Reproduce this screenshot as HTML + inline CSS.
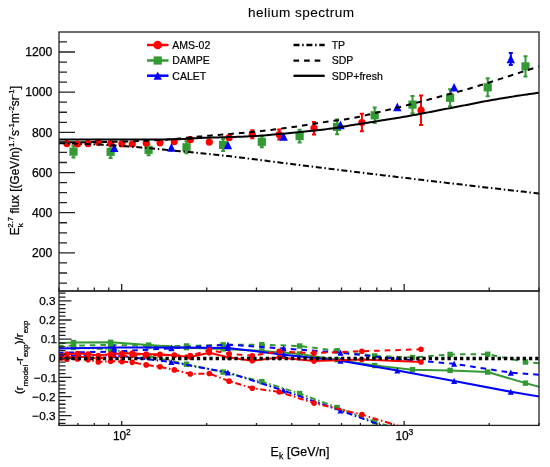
<!DOCTYPE html>
<html><head><meta charset="utf-8"><title>helium spectrum</title>
<style>html,body{margin:0;padding:0;background:#fff;width:550px;height:467px;overflow:hidden}svg{display:block}</style>
</head><body>
<svg width="550" height="467" viewBox="0 0 550 467">
<rect x="0" y="0" width="550" height="467" fill="#fff"/>
<g clip-path="url(#ct)">
<clipPath id="ct"><rect x="59" y="32" width="480" height="259"/></clipPath>
<path d="M73.5 145.7V157.5M71.5 145.7H75.5M71.5 157.5H75.5" stroke="#339933" stroke-width="2" fill="none"/>
<rect x="69.4" y="147.5" width="8.2" height="8.2" fill="#339933"/>
<path d="M110.6 145.6V158M108.6 145.6H112.6M108.6 158H112.6" stroke="#339933" stroke-width="2" fill="none"/>
<rect x="106.5" y="147.7" width="8.2" height="8.2" fill="#339933"/>
<path d="M148.6 144.3V155.3M146.6 144.3H150.6M146.6 155.3H150.6" stroke="#339933" stroke-width="2" fill="none"/>
<rect x="144.5" y="145.7" width="8.2" height="8.2" fill="#339933"/>
<path d="M186.5 141.3V153.3M184.5 141.3H188.5M184.5 153.3H188.5" stroke="#339933" stroke-width="2" fill="none"/>
<rect x="182.4" y="143.2" width="8.2" height="8.2" fill="#339933"/>
<path d="M223.1 138.9V150.9M221.1 138.9H225.1M221.1 150.9H225.1" stroke="#339933" stroke-width="2" fill="none"/>
<rect x="219" y="140.8" width="8.2" height="8.2" fill="#339933"/>
<path d="M261.8 136.3V147.3M259.8 136.3H263.8M259.8 147.3H263.8" stroke="#339933" stroke-width="2" fill="none"/>
<rect x="257.7" y="137.7" width="8.2" height="8.2" fill="#339933"/>
<path d="M299.6 129.8V142.4M297.6 129.8H301.6M297.6 142.4H301.6" stroke="#339933" stroke-width="2" fill="none"/>
<rect x="295.5" y="132" width="8.2" height="8.2" fill="#339933"/>
<path d="M337.1 119.6V134.2M335.1 119.6H339.1M335.1 134.2H339.1" stroke="#339933" stroke-width="2" fill="none"/>
<rect x="333" y="122.8" width="8.2" height="8.2" fill="#339933"/>
<path d="M374.7 107.5V123.1M372.7 107.5H376.7M372.7 123.1H376.7" stroke="#339933" stroke-width="2" fill="none"/>
<rect x="370.6" y="111.2" width="8.2" height="8.2" fill="#339933"/>
<path d="M412.5 96V113.2M410.5 96H414.5M410.5 113.2H414.5" stroke="#339933" stroke-width="2" fill="none"/>
<rect x="408.4" y="100.5" width="8.2" height="8.2" fill="#339933"/>
<path d="M450.1 89.3V106.3M448.1 89.3H452.1M448.1 106.3H452.1" stroke="#339933" stroke-width="2" fill="none"/>
<rect x="446" y="93.7" width="8.2" height="8.2" fill="#339933"/>
<path d="M487.7 78.3V96.3M485.7 78.3H489.7M485.7 96.3H489.7" stroke="#339933" stroke-width="2" fill="none"/>
<rect x="483.6" y="83.2" width="8.2" height="8.2" fill="#339933"/>
<path d="M525.5 56.2V76.6M523.5 56.2H527.5M523.5 76.6H527.5" stroke="#339933" stroke-width="2" fill="none"/>
<rect x="521.4" y="62.3" width="8.2" height="8.2" fill="#339933"/>

<circle cx="66.9" cy="143.6" r="3.6" fill="#ff0000"/>

<circle cx="77.5" cy="144" r="3.6" fill="#ff0000"/>

<circle cx="88" cy="143.6" r="3.6" fill="#ff0000"/>

<circle cx="98.3" cy="142.3" r="3.6" fill="#ff0000"/>

<circle cx="110.7" cy="143.5" r="3.6" fill="#ff0000"/>

<circle cx="121.9" cy="143.8" r="3.6" fill="#ff0000"/>

<circle cx="132.3" cy="144" r="3.6" fill="#ff0000"/>

<circle cx="146.2" cy="143.1" r="3.6" fill="#ff0000"/>

<circle cx="160" cy="142.8" r="3.6" fill="#ff0000"/>

<circle cx="174.3" cy="141.6" r="3.6" fill="#ff0000"/>

<circle cx="190.3" cy="139.7" r="3.6" fill="#ff0000"/>

<circle cx="209.3" cy="142.1" r="3.6" fill="#ff0000"/>

<circle cx="229.1" cy="137.7" r="3.6" fill="#ff0000"/>
<path d="M252.3 130.2V138.2M250.3 130.2H254.3M250.3 138.2H254.3" stroke="#ff0000" stroke-width="2" fill="none"/>
<circle cx="252.3" cy="134.2" r="3.6" fill="#ff0000"/>
<path d="M279.2 129.6V139.6M277.2 129.6H281.2M277.2 139.6H281.2" stroke="#ff0000" stroke-width="2" fill="none"/>
<circle cx="279.2" cy="134.6" r="3.6" fill="#ff0000"/>
<path d="M314 121.9V134.5M312 121.9H316M312 134.5H316" stroke="#ff0000" stroke-width="2" fill="none"/>
<circle cx="314" cy="128.2" r="3.6" fill="#ff0000"/>
<path d="M361.9 113.7V131.3M359.9 113.7H363.9M359.9 131.3H363.9" stroke="#ff0000" stroke-width="2" fill="none"/>
<circle cx="361.9" cy="122.5" r="3.6" fill="#ff0000"/>
<path d="M421 95.5V124.9M419 95.5H423M419 124.9H423" stroke="#ff0000" stroke-width="2" fill="none"/>
<circle cx="421" cy="110.2" r="3.6" fill="#ff0000"/>

<path d="M114.3 143.39L118.5 152L110.1 152Z" fill="#0000ff"/>

<path d="M171.4 143.09L175.6 151.7L167.2 151.7Z" fill="#0000ff"/>

<path d="M227.9 140.69L232.1 149.3L223.7 149.3Z" fill="#0000ff"/>

<path d="M283.6 132.19L287.8 140.8L279.4 140.8Z" fill="#0000ff"/>

<path d="M340.5 120.59L344.7 129.2L336.3 129.2Z" fill="#0000ff"/>

<path d="M397.3 102.59L401.5 111.2L393.1 111.2Z" fill="#0000ff"/>

<path d="M454.1 82.89L458.3 91.5L449.9 91.5Z" fill="#0000ff"/>
<path d="M510.8 53V65M508.8 53H512.8M508.8 65H512.8" stroke="#0000ff" stroke-width="2" fill="none"/>
<path d="M510.8 54.59L515 63.2L506.6 63.2Z" fill="#0000ff"/>
<polyline points="59,143.3 61.41,143.33 63.82,143.37 66.24,143.42 68.65,143.47 71.06,143.53 73.47,143.6 75.88,143.67 78.3,143.74 80.71,143.83 83.12,143.91 85.53,144 87.94,144.09 90.36,144.19 92.77,144.29 95.18,144.39 97.59,144.5 100.01,144.6 102.42,144.71 104.83,144.84 107.24,144.97 109.65,145.12 112.07,145.28 114.48,145.44 116.89,145.61 119.3,145.79 121.71,145.97 124.13,146.15 126.54,146.34 128.95,146.52 131.36,146.7 133.77,146.9 136.19,147.09 138.6,147.29 141.01,147.5 143.42,147.71 145.83,147.92 148.25,148.14 150.66,148.36 153.07,148.59 155.48,148.81 157.89,149.04 160.31,149.28 162.72,149.51 165.13,149.74 167.54,149.98 169.95,150.22 172.37,150.45 174.78,150.69 177.19,150.93 179.6,151.16 182.02,151.4 184.43,151.63 186.84,151.87 189.25,152.1 191.66,152.34 194.08,152.58 196.49,152.82 198.9,153.06 201.31,153.3 203.72,153.55 206.14,153.79 208.55,154.04 210.96,154.29 213.37,154.54 215.78,154.79 218.2,155.05 220.61,155.31 223.02,155.57 225.43,155.83 227.84,156.09 230.26,156.36 232.67,156.63 235.08,156.91 237.49,157.19 239.9,157.48 242.32,157.77 244.73,158.07 247.14,158.37 249.55,158.68 251.96,158.99 254.38,159.3 256.79,159.61 259.2,159.92 261.61,160.23 264.03,160.54 266.44,160.85 268.85,161.16 271.26,161.46 273.67,161.76 276.09,162.06 278.5,162.36 280.91,162.66 283.32,162.96 285.73,163.26 288.15,163.56 290.56,163.86 292.97,164.16 295.38,164.46 297.79,164.76 300.21,165.06 302.62,165.36 305.03,165.66 307.44,165.96 309.85,166.26 312.27,166.56 314.68,166.86 317.09,167.16 319.5,167.46 321.91,167.76 324.33,168.06 326.74,168.36 329.15,168.66 331.56,168.96 333.97,169.25 336.39,169.55 338.8,169.85 341.21,170.15 343.62,170.44 346.04,170.74 348.45,171.04 350.86,171.33 353.27,171.63 355.68,171.93 358.1,172.22 360.51,172.52 362.92,172.81 365.33,173.11 367.74,173.4 370.16,173.69 372.57,173.99 374.98,174.28 377.39,174.57 379.8,174.87 382.22,175.16 384.63,175.45 387.04,175.74 389.45,176.03 391.86,176.32 394.28,176.61 396.69,176.9 399.1,177.19 401.51,177.48 403.92,177.77 406.34,178.06 408.75,178.35 411.16,178.63 413.57,178.92 415.98,179.21 418.4,179.49 420.81,179.78 423.22,180.07 425.63,180.35 428.05,180.64 430.46,180.93 432.87,181.21 435.28,181.5 437.69,181.78 440.11,182.06 442.52,182.35 444.93,182.63 447.34,182.92 449.75,183.2 452.17,183.48 454.58,183.77 456.99,184.05 459.4,184.33 461.81,184.61 464.23,184.89 466.64,185.18 469.05,185.46 471.46,185.74 473.87,186.02 476.29,186.3 478.7,186.58 481.11,186.86 483.52,187.14 485.93,187.42 488.35,187.7 490.76,187.98 493.17,188.25 495.58,188.53 497.99,188.81 500.41,189.09 502.82,189.36 505.23,189.64 507.64,189.92 510.06,190.19 512.47,190.47 514.88,190.75 517.29,191.02 519.7,191.3 522.12,191.57 524.53,191.85 526.94,192.12 529.35,192.39 531.76,192.67 534.18,192.94 536.59,193.21 539,193.49" fill="none" stroke="#000" stroke-width="2" stroke-dasharray="6,2.7,1.5,2.7"/>
<polyline points="59,142.3 61.41,142.3 63.82,142.29 66.24,142.29 68.65,142.28 71.06,142.26 73.47,142.25 75.88,142.23 78.3,142.22 80.71,142.2 83.12,142.17 85.53,142.15 87.94,142.13 90.36,142.1 92.77,142.08 95.18,142.05 97.59,142.03 100.01,142 102.42,141.97 104.83,141.94 107.24,141.9 109.65,141.86 112.07,141.82 114.48,141.77 116.89,141.72 119.3,141.67 121.71,141.62 124.13,141.56 126.54,141.49 128.95,141.43 131.36,141.36 133.77,141.28 136.19,141.2 138.6,141.1 141.01,141 143.42,140.89 145.83,140.77 148.25,140.65 150.66,140.53 153.07,140.39 155.48,140.26 157.89,140.12 160.31,139.98 162.72,139.83 165.13,139.67 167.54,139.5 169.95,139.32 172.37,139.13 174.78,138.94 177.19,138.74 179.6,138.53 182.02,138.32 184.43,138.09 186.84,137.85 189.25,137.6 191.66,137.34 194.08,137.09 196.49,136.84 198.9,136.6 201.31,136.38 203.72,136.16 206.14,135.94 208.55,135.73 210.96,135.52 213.37,135.31 215.78,135.1 218.2,134.89 220.61,134.69 223.02,134.49 225.43,134.29 227.84,134.09 230.26,133.89 232.67,133.69 235.08,133.49 237.49,133.3 239.9,133.12 242.32,132.94 244.73,132.75 247.14,132.55 249.55,132.34 251.96,132.11 254.38,131.87 256.79,131.62 259.2,131.35 261.61,131.08 264.03,130.79 266.44,130.5 268.85,130.2 271.26,129.9 273.67,129.59 276.09,129.27 278.5,128.95 280.91,128.63 283.32,128.31 285.73,127.98 288.15,127.65 290.56,127.32 292.97,126.99 295.38,126.64 297.79,126.28 300.21,125.92 302.62,125.55 305.03,125.17 307.44,124.79 309.85,124.41 312.27,124.02 314.68,123.64 317.09,123.25 319.5,122.88 321.91,122.5 324.33,122.13 326.74,121.77 329.15,121.42 331.56,121.08 333.97,120.76 336.39,120.46 338.8,120.16 341.21,119.86 343.62,119.54 346.04,119.21 348.45,118.85 350.86,118.45 353.27,118.02 355.68,117.54 358.1,117.04 360.51,116.5 362.92,115.95 365.33,115.37 367.74,114.79 370.16,114.19 372.57,113.6 374.98,113 377.39,112.42 379.8,111.85 382.22,111.28 384.63,110.71 387.04,110.14 389.45,109.57 391.86,108.99 394.28,108.41 396.69,107.82 399.1,107.22 401.51,106.62 403.92,106.02 406.34,105.4 408.75,104.79 411.16,104.17 413.57,103.54 415.98,102.91 418.4,102.28 420.81,101.65 423.22,101.01 425.63,100.37 428.05,99.73 430.46,99.09 432.87,98.45 435.28,97.8 437.69,97.16 440.11,96.51 442.52,95.86 444.93,95.22 447.34,94.58 449.75,93.93 452.17,93.29 454.58,92.65 456.99,92.01 459.4,91.36 461.81,90.7 464.23,90.04 466.64,89.36 469.05,88.67 471.46,87.97 473.87,87.25 476.29,86.52 478.7,85.78 481.11,85.02 483.52,84.26 485.93,83.49 488.35,82.72 490.76,81.95 493.17,81.18 495.58,80.41 497.99,79.65 500.41,78.88 502.82,78.11 505.23,77.34 507.64,76.56 510.06,75.79 512.47,75.01 514.88,74.23 517.29,73.45 519.7,72.67 522.12,71.88 524.53,71.1 526.94,70.31 529.35,69.52 531.76,68.72 534.18,67.93 536.59,67.13 539,66.33" fill="none" stroke="#000" stroke-width="2" stroke-dasharray="5.6,5"/>
<polyline points="59,139.6 61.41,139.6 63.82,139.6 66.24,139.6 68.65,139.6 71.06,139.6 73.47,139.6 75.88,139.6 78.3,139.6 80.71,139.6 83.12,139.6 85.53,139.6 87.94,139.6 90.36,139.6 92.77,139.6 95.18,139.6 97.59,139.6 100.01,139.6 102.42,139.6 104.83,139.6 107.24,139.6 109.65,139.6 112.07,139.6 114.48,139.6 116.89,139.6 119.3,139.6 121.71,139.6 124.13,139.6 126.54,139.6 128.95,139.6 131.36,139.6 133.77,139.6 136.19,139.59 138.6,139.59 141.01,139.58 143.42,139.57 145.83,139.56 148.25,139.55 150.66,139.53 153.07,139.52 155.48,139.5 157.89,139.48 160.31,139.46 162.72,139.44 165.13,139.41 167.54,139.39 169.95,139.36 172.37,139.33 174.78,139.3 177.19,139.26 179.6,139.17 182.02,139.06 184.43,138.93 186.84,138.78 189.25,138.63 191.66,138.47 194.08,138.32 196.49,138.17 198.9,138.05 201.31,137.95 203.72,137.85 206.14,137.76 208.55,137.68 210.96,137.6 213.37,137.53 215.78,137.45 218.2,137.38 220.61,137.32 223.02,137.25 225.43,137.18 227.84,137.11 230.26,137.04 232.67,136.97 235.08,136.89 237.49,136.81 239.9,136.73 242.32,136.64 244.73,136.54 247.14,136.43 249.55,136.32 251.96,136.2 254.38,136.06 256.79,135.91 259.2,135.74 261.61,135.56 264.03,135.38 266.44,135.18 268.85,134.97 271.26,134.76 273.67,134.54 276.09,134.32 278.5,134.09 280.91,133.86 283.32,133.63 285.73,133.4 288.15,133.17 290.56,132.95 292.97,132.72 295.38,132.49 297.79,132.26 300.21,132.03 302.62,131.79 305.03,131.55 307.44,131.31 309.85,131.06 312.27,130.8 314.68,130.54 317.09,130.27 319.5,129.99 321.91,129.71 324.33,129.42 326.74,129.12 329.15,128.81 331.56,128.49 333.97,128.14 336.39,127.76 338.8,127.37 341.21,126.97 343.62,126.56 346.04,126.15 348.45,125.75 350.86,125.36 353.27,124.98 355.68,124.59 358.1,124.2 360.51,123.82 362.92,123.43 365.33,123.05 367.74,122.66 370.16,122.28 372.57,121.89 374.98,121.5 377.39,121.12 379.8,120.73 382.22,120.35 384.63,119.97 387.04,119.59 389.45,119.21 391.86,118.83 394.28,118.45 396.69,118.05 399.1,117.65 401.51,117.24 403.92,116.82 406.34,116.4 408.75,115.97 411.16,115.53 413.57,115.09 415.98,114.65 418.4,114.2 420.81,113.75 423.22,113.29 425.63,112.83 428.05,112.37 430.46,111.91 432.87,111.44 435.28,110.98 437.69,110.51 440.11,110.04 442.52,109.57 444.93,109.1 447.34,108.63 449.75,108.17 452.17,107.7 454.58,107.24 456.99,106.77 459.4,106.31 461.81,105.85 464.23,105.39 466.64,104.91 469.05,104.44 471.46,103.96 473.87,103.48 476.29,103.01 478.7,102.53 481.11,102.06 483.52,101.6 485.93,101.14 488.35,100.69 490.76,100.25 493.17,99.82 495.58,99.4 497.99,98.99 500.41,98.58 502.82,98.18 505.23,97.78 507.64,97.39 510.06,97 512.47,96.62 514.88,96.24 517.29,95.86 519.7,95.49 522.12,95.13 524.53,94.77 526.94,94.41 529.35,94.07 531.76,93.72 534.18,93.39 536.59,93.06 539,92.73" fill="none" stroke="#000" stroke-width="2"/>
</g>
<g clip-path="url(#cb)">
<clipPath id="cb"><rect x="59" y="291" width="480" height="134.39999999999998"/></clipPath>
<polyline points="58,347.5 73.5,347.47 110.6,349.33 148.6,356.13 186.5,364.25 223.1,372.09 261.8,381.65 299.6,393.52 337.1,407.53 374.7,421.76 412.5,433.64 450.1,442.04 487.7,451.61 525.5,464.32" fill="none" stroke="#339933" stroke-width="2" stroke-dasharray="6,2.7,1.5,2.7"/>
<rect x="70.8" y="344.77" width="5.4" height="5.4" fill="#339933"/>
<rect x="107.9" y="346.63" width="5.4" height="5.4" fill="#339933"/>
<rect x="145.9" y="353.43" width="5.4" height="5.4" fill="#339933"/>
<rect x="183.8" y="361.55" width="5.4" height="5.4" fill="#339933"/>
<rect x="220.4" y="369.39" width="5.4" height="5.4" fill="#339933"/>
<rect x="259.1" y="378.95" width="5.4" height="5.4" fill="#339933"/>
<rect x="296.9" y="390.82" width="5.4" height="5.4" fill="#339933"/>
<rect x="334.4" y="404.83" width="5.4" height="5.4" fill="#339933"/>
<rect x="372" y="419.06" width="5.4" height="5.4" fill="#339933"/>
<rect x="409.8" y="430.94" width="5.4" height="5.4" fill="#339933"/>
<rect x="447.4" y="439.34" width="5.4" height="5.4" fill="#339933"/>
<rect x="485" y="448.91" width="5.4" height="5.4" fill="#339933"/>
<rect x="522.8" y="461.62" width="5.4" height="5.4" fill="#339933"/>
<polyline points="58,345.9 73.5,345.65 110.6,344.82 148.6,346.06 186.5,345.94 223.1,344.85 261.8,344.71 299.6,346 337.1,350.78 374.7,355.9 412.5,357.51 450.1,354.42 487.7,354.24 525.5,362 540,363.4" fill="none" stroke="#339933" stroke-width="2" stroke-dasharray="5.6,5"/>
<rect x="70.8" y="342.95" width="5.4" height="5.4" fill="#339933"/>
<rect x="107.9" y="342.12" width="5.4" height="5.4" fill="#339933"/>
<rect x="145.9" y="343.36" width="5.4" height="5.4" fill="#339933"/>
<rect x="183.8" y="343.24" width="5.4" height="5.4" fill="#339933"/>
<rect x="220.4" y="342.15" width="5.4" height="5.4" fill="#339933"/>
<rect x="259.1" y="342.01" width="5.4" height="5.4" fill="#339933"/>
<rect x="296.9" y="343.3" width="5.4" height="5.4" fill="#339933"/>
<rect x="334.4" y="348.08" width="5.4" height="5.4" fill="#339933"/>
<rect x="372" y="353.2" width="5.4" height="5.4" fill="#339933"/>
<rect x="409.8" y="354.81" width="5.4" height="5.4" fill="#339933"/>
<rect x="447.4" y="351.72" width="5.4" height="5.4" fill="#339933"/>
<rect x="485" y="351.54" width="5.4" height="5.4" fill="#339933"/>
<rect x="522.8" y="359.3" width="5.4" height="5.4" fill="#339933"/>
<polyline points="58,343.4 73.5,342.57 110.6,342.27 148.6,345.1 186.5,347.65 223.1,348.91 261.8,350.89 299.6,353.91 337.1,359.66 374.7,365.53 412.5,369.67 450.1,370.39 487.7,372.07 525.5,383.13 540,387" fill="none" stroke="#339933" stroke-width="2"/>
<rect x="70.8" y="339.87" width="5.4" height="5.4" fill="#339933"/>
<rect x="107.9" y="339.57" width="5.4" height="5.4" fill="#339933"/>
<rect x="145.9" y="342.4" width="5.4" height="5.4" fill="#339933"/>
<rect x="183.8" y="344.95" width="5.4" height="5.4" fill="#339933"/>
<rect x="220.4" y="346.21" width="5.4" height="5.4" fill="#339933"/>
<rect x="259.1" y="348.19" width="5.4" height="5.4" fill="#339933"/>
<rect x="296.9" y="351.21" width="5.4" height="5.4" fill="#339933"/>
<rect x="334.4" y="356.96" width="5.4" height="5.4" fill="#339933"/>
<rect x="372" y="362.83" width="5.4" height="5.4" fill="#339933"/>
<rect x="409.8" y="366.97" width="5.4" height="5.4" fill="#339933"/>
<rect x="447.4" y="367.69" width="5.4" height="5.4" fill="#339933"/>
<rect x="485" y="369.37" width="5.4" height="5.4" fill="#339933"/>
<rect x="522.8" y="380.43" width="5.4" height="5.4" fill="#339933"/>
<polyline points="58,356 114.3,355.18 171.4,362.06 227.9,372.53 283.6,390.59 340.5,410.51 397.3,431.18 454.1,448.87 510.8,466.54" fill="none" stroke="#0000ff" stroke-width="2" stroke-dasharray="6,2.7,1.5,2.7"/>
<path d="M114.3 352.03L117.3 358.18L111.3 358.18Z" fill="#0000ff"/>
<path d="M171.4 358.91L174.4 365.06L168.4 365.06Z" fill="#0000ff"/>
<path d="M227.9 369.38L230.9 375.53L224.9 375.53Z" fill="#0000ff"/>
<path d="M283.6 387.44L286.6 393.59L280.6 393.59Z" fill="#0000ff"/>
<path d="M340.5 407.36L343.5 413.51L337.5 413.51Z" fill="#0000ff"/>
<path d="M397.3 428.03L400.3 434.18L394.3 434.18Z" fill="#0000ff"/>
<path d="M454.1 445.72L457.1 451.87L451.1 451.87Z" fill="#0000ff"/>
<path d="M510.8 463.39L513.8 469.54L507.8 469.54Z" fill="#0000ff"/>
<polyline points="58,352.8 114.3,351.59 171.4,348.32 227.9,344.67 283.6,348.5 340.5,352.74 397.3,359 454.1,363.79 510.8,372.63 540,374.9" fill="none" stroke="#0000ff" stroke-width="2" stroke-dasharray="5.6,5"/>
<path d="M114.3 348.44L117.3 354.59L111.3 354.59Z" fill="#0000ff"/>
<path d="M171.4 345.17L174.4 351.32L168.4 351.32Z" fill="#0000ff"/>
<path d="M227.9 341.52L230.9 347.67L224.9 347.67Z" fill="#0000ff"/>
<path d="M283.6 345.35L286.6 351.5L280.6 351.5Z" fill="#0000ff"/>
<path d="M340.5 349.59L343.5 355.74L337.5 355.74Z" fill="#0000ff"/>
<path d="M397.3 355.85L400.3 362L394.3 362Z" fill="#0000ff"/>
<path d="M454.1 360.64L457.1 366.79L451.1 366.79Z" fill="#0000ff"/>
<path d="M510.8 369.48L513.8 375.63L507.8 375.63Z" fill="#0000ff"/>
<polyline points="58,348.5 114.3,347.5 171.4,347.58 227.9,347.97 283.6,354.64 340.5,360.69 397.3,370.58 454.1,380.93 510.8,391.78 540,396.7" fill="none" stroke="#0000ff" stroke-width="2"/>
<path d="M114.3 344.35L117.3 350.5L111.3 350.5Z" fill="#0000ff"/>
<path d="M171.4 344.43L174.4 350.58L168.4 350.58Z" fill="#0000ff"/>
<path d="M227.9 344.82L230.9 350.97L224.9 350.97Z" fill="#0000ff"/>
<path d="M283.6 351.49L286.6 357.64L280.6 357.64Z" fill="#0000ff"/>
<path d="M340.5 357.54L343.5 363.69L337.5 363.69Z" fill="#0000ff"/>
<path d="M397.3 367.43L400.3 373.58L394.3 373.58Z" fill="#0000ff"/>
<path d="M454.1 377.78L457.1 383.93L451.1 383.93Z" fill="#0000ff"/>
<path d="M510.8 388.63L513.8 394.78L507.8 394.78Z" fill="#0000ff"/>
<polyline points="58,359.8 66.9,359.22 77.5,358.96 88,359.86 98.3,361.94 110.7,361.15 121.9,361.68 132.3,362.35 146.2,364.88 160,366.8 174.3,369.91 190.3,373.98 209.3,373.54 229.1,381.13 252.3,388.21 279.2,391.93 314,403.08 361.9,414.61 421,432.85" fill="none" stroke="#ff0000" stroke-width="2" stroke-dasharray="6,2.7,1.5,2.7"/>
<circle cx="66.9" cy="359.22" r="2.8" fill="#ff0000"/>
<circle cx="77.5" cy="358.96" r="2.8" fill="#ff0000"/>
<circle cx="88" cy="359.86" r="2.8" fill="#ff0000"/>
<circle cx="98.3" cy="361.94" r="2.8" fill="#ff0000"/>
<circle cx="110.7" cy="361.15" r="2.8" fill="#ff0000"/>
<circle cx="121.9" cy="361.68" r="2.8" fill="#ff0000"/>
<circle cx="132.3" cy="362.35" r="2.8" fill="#ff0000"/>
<circle cx="146.2" cy="364.88" r="2.8" fill="#ff0000"/>
<circle cx="160" cy="366.8" r="2.8" fill="#ff0000"/>
<circle cx="174.3" cy="369.91" r="2.8" fill="#ff0000"/>
<circle cx="190.3" cy="373.98" r="2.8" fill="#ff0000"/>
<circle cx="209.3" cy="373.54" r="2.8" fill="#ff0000"/>
<circle cx="229.1" cy="381.13" r="2.8" fill="#ff0000"/>
<circle cx="252.3" cy="388.21" r="2.8" fill="#ff0000"/>
<circle cx="279.2" cy="391.93" r="2.8" fill="#ff0000"/>
<circle cx="314" cy="403.08" r="2.8" fill="#ff0000"/>
<circle cx="361.9" cy="414.61" r="2.8" fill="#ff0000"/>
<circle cx="421" cy="432.85" r="2.8" fill="#ff0000"/>
<polyline points="58,357.3 66.9,357.39 77.5,356.74 88,357.1 98.3,358.58 110.7,356.77 121.9,356.03 132.3,355.36 146.2,355.69 160,355.02 174.3,355.17 190.3,355.61 209.3,350.14 229.1,353.73 252.3,355.74 279.2,351.37 314,353.13 361.9,351.21 421,349.3" fill="none" stroke="#ff0000" stroke-width="2" stroke-dasharray="5.6,5"/>
<circle cx="66.9" cy="357.39" r="2.8" fill="#ff0000"/>
<circle cx="77.5" cy="356.74" r="2.8" fill="#ff0000"/>
<circle cx="88" cy="357.1" r="2.8" fill="#ff0000"/>
<circle cx="98.3" cy="358.58" r="2.8" fill="#ff0000"/>
<circle cx="110.7" cy="356.77" r="2.8" fill="#ff0000"/>
<circle cx="121.9" cy="356.03" r="2.8" fill="#ff0000"/>
<circle cx="132.3" cy="355.36" r="2.8" fill="#ff0000"/>
<circle cx="146.2" cy="355.69" r="2.8" fill="#ff0000"/>
<circle cx="160" cy="355.02" r="2.8" fill="#ff0000"/>
<circle cx="174.3" cy="355.17" r="2.8" fill="#ff0000"/>
<circle cx="190.3" cy="355.61" r="2.8" fill="#ff0000"/>
<circle cx="209.3" cy="350.14" r="2.8" fill="#ff0000"/>
<circle cx="229.1" cy="353.73" r="2.8" fill="#ff0000"/>
<circle cx="252.3" cy="355.74" r="2.8" fill="#ff0000"/>
<circle cx="279.2" cy="351.37" r="2.8" fill="#ff0000"/>
<circle cx="314" cy="353.13" r="2.8" fill="#ff0000"/>
<circle cx="361.9" cy="351.21" r="2.8" fill="#ff0000"/>
<circle cx="421" cy="349.3" r="2.8" fill="#ff0000"/>
<polyline points="58,354.5 66.9,354.13 77.5,353.53 88,353.98 98.3,355.6 110.7,353.95 121.9,353.47 132.3,353.13 146.2,354.17 160,354.34 174.3,355.59 190.3,356.95 209.3,352.66 229.1,357.53 252.3,360.69 279.2,357.61 314,361.1 361.9,359.53 421,361.97" fill="none" stroke="#ff0000" stroke-width="2"/>
<circle cx="66.9" cy="354.13" r="2.8" fill="#ff0000"/>
<circle cx="77.5" cy="353.53" r="2.8" fill="#ff0000"/>
<circle cx="88" cy="353.98" r="2.8" fill="#ff0000"/>
<circle cx="98.3" cy="355.6" r="2.8" fill="#ff0000"/>
<circle cx="110.7" cy="353.95" r="2.8" fill="#ff0000"/>
<circle cx="121.9" cy="353.47" r="2.8" fill="#ff0000"/>
<circle cx="132.3" cy="353.13" r="2.8" fill="#ff0000"/>
<circle cx="146.2" cy="354.17" r="2.8" fill="#ff0000"/>
<circle cx="160" cy="354.34" r="2.8" fill="#ff0000"/>
<circle cx="174.3" cy="355.59" r="2.8" fill="#ff0000"/>
<circle cx="190.3" cy="356.95" r="2.8" fill="#ff0000"/>
<circle cx="209.3" cy="352.66" r="2.8" fill="#ff0000"/>
<circle cx="229.1" cy="357.53" r="2.8" fill="#ff0000"/>
<circle cx="252.3" cy="360.69" r="2.8" fill="#ff0000"/>
<circle cx="279.2" cy="357.61" r="2.8" fill="#ff0000"/>
<circle cx="314" cy="361.1" r="2.8" fill="#ff0000"/>
<circle cx="361.9" cy="359.53" r="2.8" fill="#ff0000"/>
<circle cx="421" cy="361.97" r="2.8" fill="#ff0000"/>
<line x1="59" y1="358.5" x2="539" y2="358.5" stroke="#000" stroke-width="3.3" stroke-dasharray="3.3,2.966"/>
</g>
<rect x="59" y="32" width="480" height="259" fill="none" stroke="#222" stroke-width="1.3"/>
<rect x="59" y="291" width="480" height="134.39999999999998" fill="none" stroke="#222" stroke-width="1.3"/>
<path d="M59 283.03h8 M59 272.99h8 M59 262.94h8 M59 252.9h16 M59 242.85h8 M59 232.81h8 M59 222.76h8 M59 212.72h16 M59 202.67h8 M59 192.63h8 M59 182.59h8 M59 172.54h16 M59 162.5h8 M59 152.45h8 M59 142.41h8 M59 132.36h16 M59 122.31h8 M59 112.27h8 M59 102.22h8 M59 92.18h16 M59 82.13h8 M59 72.09h8 M59 62.05h8 M59 52h16 M59 41.95h8 M59 423.38h6.5 M59 419.55h6.5 M59 415.72h12.5 M59 411.89h6.5 M59 408.06h6.5 M59 404.24h6.5 M59 400.41h6.5 M59 396.58h12.5 M59 392.75h6.5 M59 388.92h6.5 M59 385.1h6.5 M59 381.27h6.5 M59 377.44h12.5 M59 373.61h6.5 M59 369.78h6.5 M59 365.96h6.5 M59 362.13h6.5 M59 358.3h12.5 M59 354.47h6.5 M59 350.64h6.5 M59 346.82h6.5 M59 342.99h6.5 M59 339.16h12.5 M59 335.33h6.5 M59 331.5h6.5 M59 327.68h6.5 M59 323.85h6.5 M59 320.02h12.5 M59 316.19h6.5 M59 312.36h6.5 M59 308.54h6.5 M59 304.71h6.5 M59 300.88h12.5 M59 297.05h6.5 M59 293.22h6.5 M59 291v-3.5 M59 425.4v-2.4 M77.91 291v-3.5 M77.91 425.4v-2.4 M94.3 291v-3.5 M94.3 425.4v-2.4 M108.75 291v-3.5 M108.75 425.4v-2.4 M121.67 291v-7 M121.67 425.4v-4.5 M206.71 291v-3.5 M206.71 425.4v-2.4 M256.46 291v-3.5 M256.46 425.4v-2.4 M291.75 291v-3.5 M291.75 425.4v-2.4 M319.13 291v-3.5 M319.13 425.4v-2.4 M341.5 291v-3.5 M341.5 425.4v-2.4 M360.41 291v-3.5 M360.41 425.4v-2.4 M376.8 291v-3.5 M376.8 425.4v-2.4 M391.25 291v-3.5 M391.25 425.4v-2.4 M404.17 291v-7 M404.17 425.4v-4.5 M489.21 291v-3.5 M489.21 425.4v-2.4 M538.96 291v-3.5 M538.96 425.4v-2.4" stroke="#222" stroke-width="1.3" fill="none"/>
<g font-family="'Liberation Sans', Arial, Helvetica, sans-serif" fill="#000" stroke="#000" stroke-width="0.25">
<text x="301.3" y="17.4" font-size="13.6" letter-spacing="0.45" stroke-width="0.1" text-anchor="middle">helium spectrum</text>
<text x="52.4" y="257.2" font-size="12.2" text-anchor="end">200</text>
<text x="52.4" y="217.02" font-size="12.2" text-anchor="end">400</text>
<text x="52.4" y="176.84" font-size="12.2" text-anchor="end">600</text>
<text x="52.4" y="136.66" font-size="12.2" text-anchor="end">800</text>
<text x="52.4" y="96.48" font-size="12.2" text-anchor="end">1000</text>
<text x="52.4" y="56.3" font-size="12.2" text-anchor="end">1200</text>
<text x="55.6" y="419.82" font-size="11.8" text-anchor="end">−0.3</text>
<text x="55.6" y="400.68" font-size="11.8" text-anchor="end">−0.2</text>
<text x="57.2" y="381.54" font-size="11.8" text-anchor="end">−0.1</text>
<text x="55.6" y="362.4" font-size="11.8" text-anchor="end">0</text>
<text x="57.2" y="343.26" font-size="11.8" text-anchor="end">0.1</text>
<text x="55.6" y="324.12" font-size="11.8" text-anchor="end">0.2</text>
<text x="55.6" y="304.98" font-size="11.8" text-anchor="end">0.3</text>
<text x="121.87" y="440.3" font-size="11.9" text-anchor="middle">10<tspan dy="-5.3" font-size="8.5">2</tspan></text>
<text x="404.37" y="440.3" font-size="11.9" text-anchor="middle">10<tspan dy="-5.3" font-size="8.5">3</tspan></text>
<text x="270.6" y="456.2" font-size="12.3" letter-spacing="0.15">E<tspan dy="3" font-size="8.5">k</tspan><tspan dy="-3"> [GeV/n]</tspan></text>
<text transform="translate(19.3,160.6) rotate(-90)" font-size="11.85" text-anchor="middle">E<tspan dy="3.2" font-size="7.9">k</tspan><tspan dx="-4.3" dy="-9.4" font-size="7.9">2.7</tspan><tspan dy="6.2"> flux [(GeV/n)</tspan><tspan dy="-5.2" font-size="7.9">1.7</tspan><tspan dy="5.2">s</tspan><tspan dy="-5.2" font-size="7.9">-1</tspan><tspan dy="5.2">m</tspan><tspan dy="-5.2" font-size="7.9">-2</tspan><tspan dy="5.2">sr</tspan><tspan dy="-5.2" font-size="7.9">-1</tspan><tspan dy="5.2">]</tspan></text>
<text transform="translate(23,357.3) rotate(-90)" font-size="11.6" text-anchor="middle">(r<tspan dy="4.8" font-size="7.9">model</tspan><tspan dy="-4.8">-r</tspan><tspan dy="4.8" font-size="7.9">exp</tspan><tspan dy="-4.8">)/r</tspan><tspan dy="4.8" font-size="7.9">exp</tspan></text>
</g>
<g font-family="'Liberation Sans', Arial, Helvetica, sans-serif" fill="#000" font-size="10.5">
<g stroke="none">
<line x1="147" y1="45" x2="168.5" y2="45" stroke="#ff0000" stroke-width="2.5"/>
<circle cx="157.7" cy="45" r="4.3" fill="#ff0000"/>
<text x="172.3" y="48.8" stroke="#000" stroke-width="0.2">AMS-02</text>
<line x1="147" y1="60.5" x2="168.5" y2="60.5" stroke="#339933" stroke-width="2.5"/>
<rect x="153.6" y="56.4" width="8.2" height="8.2" fill="#339933"/>
<text x="172.3" y="64.3" stroke="#000" stroke-width="0.2">DAMPE</text>
<line x1="147" y1="75.7" x2="168.5" y2="75.7" stroke="#0000ff" stroke-width="2.5"/>
<path d="M157.7 71.4L161.8 79.8L153.6 79.8Z" fill="#0000ff"/>
<text x="172.3" y="79.5" stroke="#000" stroke-width="0.2">CALET</text>
<line x1="293.5" y1="45" x2="324.7" y2="45" stroke="#000" stroke-width="2.3" stroke-dasharray="6,2.7,1.5,2.7"/>
<text x="331.7" y="48.8" stroke="#000" stroke-width="0.2">TP</text>
<line x1="293.5" y1="60.6" x2="324.7" y2="60.6" stroke="#000" stroke-width="2.3" stroke-dasharray="5.6,5"/>
<text x="331.7" y="64.4" stroke="#000" stroke-width="0.2">SDP</text>
<line x1="293.5" y1="75.8" x2="324.7" y2="75.8" stroke="#000" stroke-width="2.3"/>
<text x="331.7" y="79.6" stroke="#000" stroke-width="0.2">SDP+fresh</text>
</g>
</g>
</svg>
</body></html>
